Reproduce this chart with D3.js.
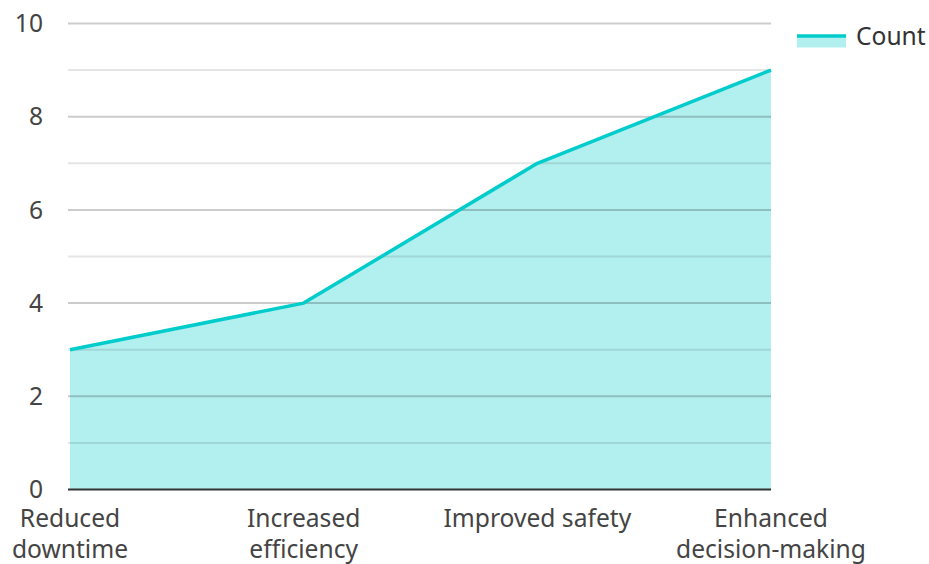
<!DOCTYPE html>
<html><head><meta charset="utf-8">
<script src="https://cdn.jsdelivr.net/npm/d3@7"></script>
<style>body{margin:0;background:#fff;} text{font-family:"Noto Sans",sans-serif;}</style>
</head><body>
<svg id="c" width="929" height="564"></svg>
<script>
const categories = ["Reduced downtime","Increased efficiency","Improved safety","Enhanced decision-making"];
const counts = [3,4,7,9];
const yTicks = [0,2,4,6,8,10];
const seriesName = "Count";

const svg = d3.select("#c");
const m = {left:70, right:158, top:23.5, bottom:74.5};
const W = 929, H = 564;
const x = d3.scalePoint().domain(categories).range([m.left, W - m.right]);
const y = d3.scaleLinear().domain([0,10]).range([H - m.bottom, m.top]);
const lineColor = "#00cccc", fillColor = "#b2efef";
const fs = 24.6;

// area
const data = categories.map((c,i)=>({c, v:counts[i]}));
svg.append("path").datum(data)
  .attr("d", d3.area().x(d=>x(d.c)).y0(y(0)).y1(d=>y(d.v)))
  .attr("fill", fillColor);

// grid (semi-transparent, over the fill)
const g = svg.append("g");
g.selectAll("line.minor").data(d3.range(1,10,2)).join("line")
  .attr("x1", m.left-2).attr("x2", W-m.right).attr("y1", d=>y(d)).attr("y2", d=>y(d))
  .attr("stroke","rgba(0,0,0,0.1)").attr("stroke-width",2);
g.selectAll("line.major").data(yTicks.filter(d=>d>0)).join("line")
  .attr("x1", m.left-2).attr("x2", W-m.right).attr("y1", d=>y(d)).attr("y2", d=>y(d))
  .attr("stroke","rgba(0,0,0,0.2)").attr("stroke-width",2);

svg.append("path").datum(data)
  .attr("d", d3.line().x(d=>x(d.c)).y(d=>y(d.v)))
  .attr("fill","none").attr("stroke", lineColor).attr("stroke-width",3.5).attr("stroke-linejoin","round");

// y axis labels
svg.append("g").selectAll("text").data(yTicks).join("text")
  .attr("x", 43).attr("y", d=>y(d)).attr("dy","0.35em")
  .attr("text-anchor","end").attr("font-size",fs).attr("fill","#444")
  .text(d=>d);

// x axis line
svg.append("line").attr("x1", m.left-2).attr("x2", W-m.right).attr("y1", y(0)).attr("y2", y(0))
  .attr("stroke","#333").attr("stroke-width",2);

// x labels with wrap
const xl = svg.append("g").selectAll("text").data(categories).join("text")
  .attr("x", d=>x(d)).attr("y", y(0)+37)
  .attr("text-anchor","middle").attr("font-size",fs).attr("fill","#444");
xl.each(function(d){
  const t = d3.select(this);
  const words = d.split(" ");
  let line = [], lines = [];
  const tmp = t.append("tspan");
  words.forEach(w=>{
    const test = line.concat([w]).join(" ");
    tmp.text(test);
    if (tmp.node().getComputedTextLength() > 205 && line.length) { lines.push(line.join(" ")); line=[w]; }
    else line.push(w);
  });
  lines.push(line.join(" "));
  tmp.remove();
  lines.forEach((l,i)=> t.append("tspan").attr("x", x(d)).attr("dy", i===0?0:31).text(l));
});

// legend
const lg = svg.append("g");
lg.append("rect").attr("x",797).attr("y",35).attr("width",49).attr("height",12.5).attr("fill",fillColor);
lg.append("line").attr("x1",797).attr("x2",846).attr("y1",36).attr("y2",36).attr("stroke",lineColor).attr("stroke-width",3.5);
lg.append("text").attr("x",856).attr("y",36).attr("dy","0.35em").attr("font-size",fs).attr("fill","#333").text(seriesName);
</script>
</body></html>
